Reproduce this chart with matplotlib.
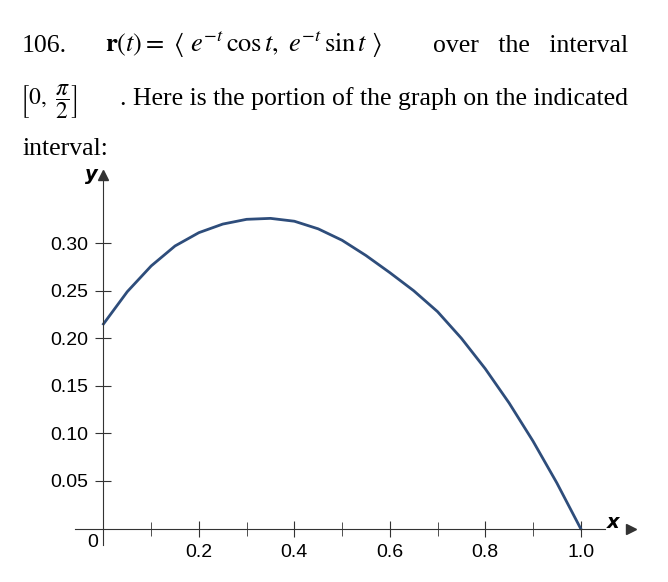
import matplotlib
matplotlib.use("Agg")
import matplotlib.pyplot as plt

plt.rcParams['mathtext.fontset'] = 'stix'

xs = [0.0, 0.05, 0.1, 0.15, 0.2, 0.25, 0.3, 0.35, 0.4, 0.45, 0.5, 0.55, 0.6, 0.65, 0.7, 0.75, 0.8, 0.85, 0.9, 0.95, 1.0]
ys = [0.215, 0.249, 0.276, 0.297, 0.311, 0.320, 0.325, 0.326, 0.323, 0.315, 0.303, 0.287, 0.269, 0.250, 0.228, 0.200, 0.168, 0.132, 0.092, 0.048, 0.0]
xticks = [0.2, 0.4, 0.6, 0.8, 1.0]
xlabels = ["0.2", "0.4", "0.6", "0.8", "1.0"]
yticks = [0.05, 0.10, 0.15, 0.20, 0.25, 0.30]
ylabels = ["0.05", "0.10", "0.15", "0.20", "0.25", "0.30"]

fig = plt.figure(figsize=(6.68, 5.82), dpi=100)
serif = 'Liberation Serif'
fs = 18.5
fig.text(22/668, 1-52/582, "106.", fontsize=fs, family=serif, va='baseline')
fig.text(105/668, 1-52/582, r"$\mathbf{r}(t) = \ \langle\ e^{-t}\,\cos t,\ e^{-t}\,\sin t\ \rangle$", fontsize=19, va='baseline')
fig.text(628/668, 1-52/582, "over   the   interval", fontsize=fs, family=serif, va='baseline', ha='right')
fig.text(20/668, 1-105/582, r"$\left[0,\ \dfrac{\pi}{2}\right]$", fontsize=17, va='baseline')
fig.text(628/668, 1-105/582, ". Here is the portion of the graph on the indicated", fontsize=fs, family=serif, va='baseline', ha='right')
fig.text(22/668, 1-155/582, "interval:", fontsize=fs, family=serif, va='baseline')

ax = fig.add_axes([0.112, 0.064, 0.793, 0.636])
ax.plot(xs, ys, color='#2e4d7b', lw=2, solid_joinstyle='round')
ax.set_xlim(-0.06, 1.05)
ax.set_ylim(-0.017, 0.372)
for s in ['top', 'right']:
    ax.spines[s].set_visible(False)
ax.spines['left'].set_position(('data', 0))
ax.spines['bottom'].set_position(('data', 0))
ax.spines['left'].set_color('#333333')
ax.spines['bottom'].set_color('#333333')
ax.set_xticks(xticks)
ax.set_xticklabels(xlabels, family='Liberation Sans', fontsize=14)
ax.set_xticks([0.1, 0.3, 0.5, 0.7, 0.9], minor=True)
ax.set_yticks(yticks)
ax.set_yticklabels(ylabels, family='Liberation Sans', fontsize=14)
ax.tick_params(direction='inout', length=12, color='#333333', pad=5)
ax.tick_params(which='minor', direction='inout', length=10, color='#333333')
ax.plot(1.05, 0, '>', color='#333333', ms=7, clip_on=False, transform=ax.get_yaxis_transform())
ax.plot(0, 0.372, '^', color='#333333', ms=7, clip_on=False)
ax.text(-0.012, -0.006, "0", ha='right', va='top', fontsize=14, family='Liberation Sans')
ax.text(1.055, -0.004, "x", fontsize=14, fontweight='bold', family='DejaVu Sans', style='italic', va='bottom')
ax.text(-0.012, 0.372, "y", fontsize=14, fontweight='bold', family='DejaVu Sans', style='italic', ha='right', va='center')
fig.savefig("out.png", dpi=100)
